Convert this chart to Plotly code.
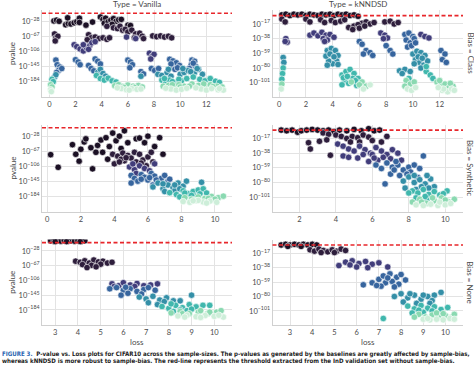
import plotly.graph_objects as go

# ---------------- data (loss, log10 p-value, sample-size group 0..7) ----------------
vanilla_class = [
    (0.35,-26,0),(0.55,-24,0),(0.75,-27,0),(1.25,-36,0),(1.45,-33,0),(1.4,-18,0),(1.65,-34,0),(1.9,-31,0),
    (2.1,-28,0),(2.3,-19,0),(2.3,-30,0),(2.8,-37,0),(3.3,-29,0),(3.9,-16,0),(4.1,-22,0),(4.3,-19,0),
    (4.2,-32,0),(4.5,-28,0),(4.7,-24,0),(4.9,-20,0),(5.1,-27,0),(5.3,-23,0),(5.5,-22,0),(4.8,-35,0),
    (6.0,-37,0),(6.2,-38,0),
    (0.4,-60,1),(0.5,-70,1),(0.65,-66,1),(0.45,-78,1),(4.4,-40,1),(4.9,-44,1),(5.2,-46,1),(5.4,-40,1),
    (5.6,-50,1),(5.8,-48,1),(6.0,-55,1),(6.3,-50,1),(6.6,-60,1),(6.9,-58,1),(7.1,-66,1),(7.2,-72,1),
    (6.5,-70,1),(7.9,-65,1),(8.2,-67,1),(8.5,-65,1),(8.8,-68,1),(9.1,-66,1),(9.35,-70,1),(3.0,-62,1),
    (3.2,-70,1),(3.5,-68,1),(3.8,-72,1),(4.1,-70,1),(4.4,-74,1),(4.6,-70,1),(2.9,-75,1),
    (1.9,-88,2),(2.1,-93,2),(2.35,-99,2),(2.6,-104,2),(2.85,-96,2),(3.1,-90,2),(3.25,-83,2),(2.6,-88,2),
    (3.0,-100,2),(3.5,-80,2),(7.65,-110,2),(7.85,-118,2),(8.0,-113,2),(7.75,-125,2),(5.9,-68,2),(6.6,-72,2),
    (0.5,-128,3),(0.6,-140,3),(0.8,-146,3),(0.7,-155,3),(0.95,-150,3),(0.55,-160,3),(2.0,-127,3),(2.2,-133,3),
    (2.35,-140,3),(3.0,-142,3),(3.2,-150,3),(3.5,-125,3),(3.7,-131,3),(3.9,-138,3),(3.4,-156,3),(6.0,-128,3),
    (6.2,-133,3),(6.35,-140,3),(6.15,-148,3),(7.0,-158,3),(7.2,-164,3),(7.8,-150,3),(8.05,-155,3),(8.35,-150,3),
    (9.2,-126,3),(9.45,-130,3),(9.7,-135,3),(9.35,-145,3),(9.6,-152,3),(9.95,-142,3),(10.9,-128,3),(11.1,-131,3),
    (10.85,-140,3),(11.2,-145,3),(10.7,-150,3),(9.3,-138,3),(9.8,-148,3),(11.0,-136,3),
    (0.4,-172,4),(0.5,-166,4),(3.7,-160,4),(3.9,-152,4),(4.1,-163,4),(4.3,-170,4),(7.0,-170,4),(8.3,-165,4),
    (8.6,-168,4),(9.0,-160,4),(9.3,-170,4),(10.0,-165,4),(10.3,-160,4),(10.6,-155,4),(11.1,-160,4),(11.4,-152,4),
    (11.7,-165,4),(9.1,-152,4),(10.2,-150,4),(11.3,-150,4),(10.8,-158,4),
    (0.2,-178,5),(0.3,-184,5),(3.6,-168,5),(3.9,-176,5),(4.2,-180,5),(4.5,-175,5),(4.8,-182,5),(5.1,-185,5),
    (8.6,-180,5),(8.9,-186,5),(9.2,-180,5),(9.6,-188,5),(10.1,-182,5),(10.5,-176,5),(11.0,-172,5),(11.5,-178,5),
    (11.9,-182,5),(12.3,-176,5),(12.7,-183,5),(13.0,-186,5),(8.8,-176,5),(9.4,-184,5),(9.9,-178,5),
    (0.1,-192,6),(0.2,-198,6),(5.0,-195,6),(5.3,-192,6),(5.6,-197,6),(6.0,-193,6),(6.4,-196,6),(6.8,-194,6),
    (7.1,-198,6),(8.7,-196,6),(9.1,-194,6),(9.5,-198,6),(9.9,-192,6),(10.3,-196,6),(10.9,-190,6),(11.4,-194,6),
    (11.9,-196,6),(12.3,-192,6),(12.8,-196,6),(13.2,-198,6),(5.7,-199,6),(6.5,-199,6),(9.4,-192,6),
    (10.0,-198,6),(10.7,-196,6),(11.8,-190,6),(12.5,-197,6),
    (0.1,-205,7),(0.15,-210,7),(5.5,-202,7),(5.9,-205,7),(6.3,-202,7),(6.7,-204,7),(9.3,-203,7),(9.7,-206,7),
    (10.1,-204,7),(10.5,-201,7),(11.6,-203,7),(12.0,-206,7),(12.4,-202,7),(12.9,-205,7),(13.3,-206,7),
    (5.2,-200,7),(6.1,-206,7),(7.0,-203,7),(8.9,-201,7),(11.2,-200,7),(13.0,-202,7),
]

knndsd_class = [
    (0.2,-4,0),(0.5,-3,0),(0.8,-5,0),(1.1,-3,0),(1.4,-4,0),(1.7,-3,0),(2.0,-5,0),(2.3,-3,0),(2.6,-4,0),
    (2.9,-5,0),(3.2,-3,0),(3.5,-4,0),(3.8,-3,0),(4.1,-5,0),(4.4,-3,0),(4.7,-4,0),(5.0,-3,0),(5.3,-5,0),
    (5.6,-4,0),(5.9,-6,0),
    (0.2,-10,1),(0.45,-14,1),(2.0,-10,1),(2.3,-14,1),(3.1,-11,1),(3.4,-15,1),(3.9,-12,1),(4.2,-15,1),
    (4.6,-13,1),(4.9,-11,1),(6.2,-16,1),(6.5,-14,1),(6.8,-17,1),(7.1,-15,1),(7.9,-14,1),(8.3,-13,1),
    (8.6,-17,1),(8.9,-15,1),(5.2,-22,1),(5.6,-20,1),(5.9,-18,1),(6.0,-23,1),(6.4,-20,1),(5.5,-25,1),
    (2.3,-33,2),(2.6,-30,2),(2.9,-34,2),(3.2,-29,2),(3.5,-33,2),(3.8,-32,2),(4.1,-36,2),(3.3,-38,2),
    (3.6,-40,2),(3.4,-42,2),(0.5,-38,2),(0.6,-43,2),(0.45,-42,2),(7.6,-30,2),(7.9,-33,2),(8.1,-37,2),
    (7.8,-38,2),(10.6,-32,2),(10.9,-35,2),(11.2,-37,2),
    (6.0,-42,3),(6.2,-46,3),(6.5,-55,3),(6.8,-58,3),(7.0,-62,3),(6.3,-60,3),(9.4,-32,3),(9.7,-30,3),
    (10.0,-35,3),(9.5,-40,3),(9.8,-44,3),(10.1,-38,3),(9.6,-50,3),(8.0,-48,3),(8.3,-55,3),(8.5,-60,3),
    (12.1,-55,3),(12.4,-60,3),(12.2,-68,3),(12.5,-72,3),(9.9,-48,3),(10.2,-44,3),
    (3.6,-55,4),(3.9,-52,4),(4.2,-55,4),(4.4,-62,4),(4.3,-70,4),(4.0,-74,4),(3.7,-70,4),(3.5,-63,4),
    (10.0,-60,4),(10.3,-56,4),(10.6,-58,4),(10.9,-62,4),(10.2,-68,4),(10.5,-72,4),(10.8,-76,4),(11.1,-70,4),
    (0.3,-65,4),(0.35,-72,4),(9.0,-84,4),(9.4,-82,4),(9.8,-85,4),(9.2,-88,4),(3.8,-60,4),(4.1,-64,4),
    (3.6,-76,4),(4.4,-75,4),(10.4,-64,4),(10.7,-66,4),(10.1,-74,4),(10.6,-80,4),
    (0.3,-80,5),(0.25,-88,5),(0.2,-96,5),(4.7,-90,5),(5.0,-85,5),(5.3,-82,5),(5.6,-88,5),(5.9,-95,5),
    (4.9,-98,5),(5.2,-102,5),(5.5,-95,5),(5.8,-105,5),(11.0,-85,5),(11.3,-90,5),(11.5,-95,5),(11.0,-78,5),
    (4.8,-94,5),(5.1,-92,5),(5.7,-98,5),(4.7,-104,5),(9.7,-95,5),
    (0.2,-103,6),(6.2,-100,6),(6.5,-106,6),(9.5,-98,6),(9.8,-103,6),(10.1,-100,6),(11.8,-100,6),
    (12.1,-105,6),(12.4,-103,6),(12.7,-108,6),(13.0,-106,6),(5.4,-100,6),(6.0,-104,6),(9.4,-106,6),
    (12.0,-98,6),(12.8,-102,6),
    (0.15,-110,7),(6.8,-104,7),(6.3,-110,7),(9.6,-110,7),(9.9,-112,7),(12.2,-112,7),(12.6,-114,7),(12.9,-110,7),
    (10.2,-108,7),(12.3,-110,7),(13.1,-112,7),(11.9,-108,7),
]

vanilla_synthetic = [
    (0.2,-76,0),(0.65,-109,0),(1.5,-50,0),(1.7,-75,0),(2.0,-62,0),(2.2,-43,0),(2.3,-35,0),(2.6,-58,0),
    (3.0,-52,0),(3.2,-38,0),(3.5,-32,0),(3.7,-55,0),(3.9,-20,0),(4.1,-40,0),(4.3,-28,0),(4.6,-14,0),
    (4.8,-45,0),(2.7,-113,0),(1.9,-93,0),(3.3,-70,0),(2.9,-70,0),(3.6,-88,0),(4.4,-60,0),(5.3,-35,0),
    (5.5,-33,0),(6.0,-28,0),(6.7,-32,0),(5.8,-45,0),(6.4,-55,0),(6.9,-75,0),
    (3.9,-75,1),(4.2,-80,1),(4.5,-72,1),(4.8,-78,1),(5.0,-85,1),(5.2,-70,1),(5.5,-75,1),(5.7,-90,1),
    (6.0,-82,1),(6.3,-95,1),(4.0,-100,1),(4.6,-92,1),(5.3,-95,1),(5.9,-105,1),(6.2,-70,1),(4.4,-88,1),
    (4.3,-95,1),(4.7,-84,1),(5.6,-98,1),
    (4.9,-108,2),(5.2,-115,2),(5.5,-105,2),(5.8,-112,2),(6.1,-118,2),(5.3,-125,2),(6.4,-100,2),(5.1,-100,2),
    (5.0,-130,3),(5.2,-138,3),(5.4,-145,3),(5.6,-128,3),(5.8,-135,3),(6.0,-142,3),(6.2,-125,3),(6.4,-132,3),
    (6.6,-148,3),(6.8,-138,3),(7.0,-130,3),(7.2,-145,3),(5.0,-150,3),(6.3,-155,3),(5.6,-140,3),(6.1,-136,3),
    (6.5,-142,3),(7.3,-140,3),
    (6.3,-160,4),(6.6,-150,4),(6.9,-165,4),(7.2,-155,4),(7.5,-162,4),(7.8,-150,4),(8.1,-158,4),(7.0,-172,4),
    (7.6,-170,4),(8.3,-145,4),(9.2,-148,4),(6.9,-152,4),(7.6,-155,4),(7.9,-165,4),
    (7.3,-175,5),(7.7,-180,5),(8.1,-170,5),(8.4,-178,5),(8.7,-172,5),(9.0,-168,5),(9.3,-165,5),(8.8,-184,5),
    (9.5,-176,5),(7.9,-186,5),(8.2,-176,5),(8.6,-182,5),(9.1,-178,5),
    (8.2,-188,6),(8.6,-192,6),(9.0,-186,6),(9.4,-190,6),(9.8,-185,6),(10.2,-188,6),(10.5,-184,6),
    (9.6,-190,6),(10.0,-192,6),
    (8.1,-198,7),(8.5,-200,7),(8.9,-196,7),(9.3,-199,7),(9.7,-197,7),(10.1,-200,7),(9.0,-195,7),
    (9.5,-202,7),(8.7,-196,7),
]

knndsd_synthetic = [
    (1.0,-5,0),(1.3,-6,0),(1.6,-5,0),(1.9,-8,0),(2.1,-6,0),(2.4,-5,0),(2.7,-4,0),(3.0,-5,0),(3.3,-6,0),
    (3.6,-5,0),(3.9,-7,0),(4.2,-5,0),(4.6,-6,0),(5.0,-4,0),(5.4,-6,0),(5.8,-3,0),(6.1,-6,0),(6.4,-5,0),
    (3.3,-9,1),(3.6,-11,1),(4.0,-12,1),(4.3,-14,1),(4.6,-17,1),(4.9,-14,1),(5.2,-16,1),(5.5,-12,1),
    (5.8,-15,1),(6.0,-20,1),(4.8,-22,1),(5.3,-22,1),(2.5,-23,1),(2.6,-32,1),(3.1,-21,1),(3.5,-19,1),
    (6.5,-22,1),(6.8,-14,1),(3.7,-41,1),
    (4.1,-25,2),(4.4,-28,2),(4.7,-32,2),(5.0,-35,2),(5.3,-28,2),(5.6,-33,2),(5.9,-38,2),(6.2,-30,2),
    (6.5,-35,2),(6.8,-40,2),(7.1,-33,2),(7.4,-38,2),(5.2,-45,2),(5.8,-50,2),(6.3,-48,2),(4.4,-42,2),
    (4.7,-44,2),(6.0,-40,2),(7.6,-48,2),(5.5,-40,2),(6.1,-45,2),(6.6,-44,2),(7.0,-46,2),
    (6.2,-55,3),(6.5,-60,3),(6.8,-52,3),(7.1,-58,3),(7.4,-55,3),(7.7,-62,3),(8.0,-58,3),(8.3,-55,3),
    (8.6,-60,3),(7.0,-68,3),(7.5,-70,3),(8.1,-65,3),(8.8,-42,3),(6.7,-82,3),(8.5,-73,3),(7.3,-50,3),
    (7.2,-62,3),(7.9,-68,3),
    (7.7,-78,4),(8.0,-72,4),(8.3,-80,4),(8.6,-76,4),(8.9,-82,4),(9.2,-75,4),(9.0,-70,4),(7.8,-88,4),
    (8.4,-90,4),(9.4,-86,4),(8.3,-70,4),(8.7,-86,4),(9.1,-88,4),
    (8.2,-92,5),(8.5,-95,5),(8.8,-90,5),(9.1,-97,5),(9.4,-93,5),(9.7,-98,5),(10.1,-92,5),(8.4,-102,5),
    (9.0,-105,5),(8.0,-95,5),(8.9,-100,5),(9.9,-96,5),
    (8.2,-108,6),(8.6,-104,6),(9.0,-110,6),(9.4,-106,6),(9.8,-102,6),(10.2,-108,6),(10.5,-104,6),
    (9.3,-102,6),(10.0,-105,6),(8.7,-108,6),
    (8.4,-112,7),(8.8,-113,7),(9.2,-111,7),(9.6,-113,7),(10.0,-112,7),(10.3,-110,7),(9.7,-108,7),
]

vanilla_none = [
    (2.8,-1,0),(2.95,-2,0),(3.1,-1,0),(3.25,-2,0),(3.4,-1,0),(3.55,-2,0),(3.7,-1,0),(3.85,-2,0),
    (4.0,-1,0),(4.15,-2,0),(4.3,-1,0),(3.0,-3,0),(3.5,-3,0),(4.1,-3,0),
    (3.9,-55,1),(4.1,-58,1),(4.3,-54,1),(4.5,-60,1),(4.7,-52,1),(4.9,-57,1),(5.1,-55,1),(5.3,-60,1),
    (5.5,-58,1),(4.2,-64,1),(4.6,-66,1),(5.0,-63,1),(4.8,-70,1),(4.4,-72,1),
    (5.5,-115,2),(5.8,-120,2),(6.0,-112,2),(6.3,-118,2),(6.6,-114,2),(6.9,-120,2),(7.2,-118,2),(7.5,-115,2),
    (5.6,-122,2),(6.5,-122,2),
    (5.4,-128,3),(5.7,-125,3),(6.0,-132,3),(6.3,-128,3),(6.6,-135,3),(6.9,-130,3),(6.2,-140,3),(5.9,-145,3),
    (7.1,-125,3),(6.1,-124,3),(6.8,-142,3),(7.4,-132,3),
    (6.7,-150,4),(7.0,-155,4),(7.3,-148,4),(7.6,-158,4),(7.9,-152,4),(8.2,-160,4),(7.1,-165,4),(7.5,-170,4),
    (8.5,-160,4),(9.0,-145,4),(7.8,-162,4),
    (7.7,-175,5),(8.0,-180,5),(8.3,-172,5),(8.6,-178,5),(8.9,-170,5),(9.2,-176,5),(9.5,-172,5),(8.2,-188,5),
    (8.8,-186,5),(9.8,-172,5),(8.1,-168,5),(8.5,-184,5),(9.0,-182,5),
    (8.1,-192,6),(8.5,-188,6),(8.9,-194,6),(9.3,-190,6),(9.7,-194,6),(10.1,-190,6),(10.3,-186,6),
    (9.4,-186,6),(9.8,-190,6),(8.6,-194,6),
    (8.4,-200,7),(8.8,-198,7),(9.2,-202,7),(9.6,-199,7),(10.0,-201,7),(10.4,-203,7),(8.7,-203,7),
    (9.4,-204,7),(10.2,-198,7),
]

knndsd_none = [
    (2.6,-5,0),(2.8,-4,0),(3.0,-5,0),(3.2,-4,0),(3.4,-5,0),(3.6,-4,0),(3.8,-5,0),(4.0,-4,0),(4.2,-5,0),
    (2.9,-7,0),(3.5,-7,0),
    (3.9,-12,1),(4.1,-14,1),(4.3,-11,1),(4.5,-13,1),(4.7,-15,1),(4.9,-12,1),(5.1,-14,1),(5.3,-11,1),
    (5.5,-13,1),(4.4,-16,1),(5.0,-16,1),
    (5.2,-35,2),(5.5,-30,2),(5.8,-28,2),(6.1,-32,2),(6.4,-29,2),(6.7,-33,2),(7.0,-31,2),(6.0,-37,2),
    (6.5,-38,2),(7.4,-37,2),(5.7,-34,2),
    (6.3,-63,3),(6.7,-60,3),(7.0,-55,3),(7.2,-50,3),(7.5,-47,3),(7.8,-52,3),(8.0,-48,3),(7.3,-60,3),
    (7.6,-58,3),(7.9,-62,3),(8.2,-56,3),(7.1,-65,3),(6.9,-64,3),(7.4,-53,3),(7.7,-66,3),
    (7.7,-80,4),(8.0,-76,4),(8.3,-82,4),(8.6,-78,4),(8.9,-84,4),(9.2,-80,4),(9.5,-78,4),(9.8,-74,4),
    (8.1,-88,4),(8.7,-90,4),(9.4,-86,4),(8.4,-76,4),(9.0,-78,4),(9.3,-90,4),
    (8.3,-94,5),(8.6,-98,5),(8.9,-93,5),(9.2,-97,5),(9.5,-95,5),(9.8,-99,5),(10.1,-96,5),(8.5,-104,5),
    (7.2,-112,5),(9.0,-103,5),(8.8,-100,5),(9.4,-101,5),
    (8.8,-106,6),(9.1,-110,6),(9.4,-107,6),(9.7,-111,6),(10.0,-108,6),(10.3,-110,6),(9.6,-104,6),
    (9.9,-105,6),(10.4,-106,6),(8.6,-110,6),
    (9.0,-113,7),(9.3,-114,7),(9.6,-113,7),(9.9,-114,7),(10.2,-112,7),(9.2,-112,7),(10.4,-113,7),
]

threshold_log10 = {"Vanilla": -6, "kNNDSD": -5}

types = ["Vanilla", "kNNDSD"]
biases = ["Class", "Synthetic", "None"]
panels = {
    ("Class", "Vanilla"): vanilla_class, ("Class", "kNNDSD"): knndsd_class,
    ("Synthetic", "Vanilla"): vanilla_synthetic, ("Synthetic", "kNNDSD"): knndsd_synthetic,
    ("None", "Vanilla"): vanilla_none, ("None", "kNNDSD"): knndsd_none,
}
ytick_exp = {"Vanilla": [-28, -67, -106, -145, -184], "kNNDSD": [-17, -38, -59, -80, -101]}
xtick_vals = {
    ("Class", "Vanilla"): [0, 2, 4, 6, 8, 10, 12], ("Class", "kNNDSD"): [0, 2, 4, 6, 8, 10, 12],
    ("Synthetic", "Vanilla"): [0, 2, 4, 6, 8, 10], ("Synthetic", "kNNDSD"): [2, 4, 6, 8, 10],
    ("None", "Vanilla"): [3, 4, 5, 6, 7, 8, 9, 10], ("None", "kNNDSD"): [3, 4, 5, 6, 7, 8, 9, 10],
}

# ---------------- style / layout ----------------
PALETTE = ["#1b1024", "#2e1e3c", "#413d7b", "#37659e", "#348fa7", "#40b7ad", "#8ad9b1", "#cdeed9"]
W, H = 474, 372
col_px = {"Vanilla": (42, 232), "kNNDSD": (272.5, 463)}
title_px = {"Vanilla": 137, "kNNDSD": 358}
row_px = {"Class": (10, 97), "Synthetic": (124.5, 211.5), "None": (239.5, 325)}
y_range = {"Vanilla": [-224, 2.4], "kNNDSD": [-121.5, 3]}
x_pad = 0.05
FONT = "Lato, Open Sans, DejaVu Sans, sans-serif"
GRID = "#e3e3e3"
TXT = "#4a4a4a"

fig = go.Figure()
layout = dict(width=W, height=H, margin=dict(l=0, r=0, t=0, b=0, autoexpand=False),
              paper_bgcolor="white", plot_bgcolor="white", showlegend=False,
              font=dict(family=FONT, size=7.5, color=TXT))
annotations = []
shapes = []


def label(text, px, py, angle=0, size=8):
    return dict(text=text, x=px / W, y=1 - py / H, xref="paper", yref="paper",
                xanchor="center", yanchor="middle", textangle=angle, showarrow=False,
                font=dict(size=size, color=TXT))


k = 0
for bias in biases:
    for typ in types:
        k += 1
        sfx = "" if k == 1 else str(k)
        pts = panels[(bias, typ)]
        loss = [p[0] for p in pts]
        pval = [10.0 ** p[1] for p in pts]
        col = [PALETTE[p[2]] for p in pts]
        fig.add_trace(go.Scatter(
            x=loss, y=pval, mode="markers", xaxis="x" + sfx, yaxis="y" + sfx,
            marker=dict(size=6.5, color=col, line=dict(color="white", width=0.6)),
            hoverinfo="skip"))
        lo, hi = min(loss), max(loss)
        span = hi - lo
        x0p, x1p = col_px[typ]
        t, b = row_px[bias]
        layout["xaxis" + sfx] = dict(
            domain=[x0p / W, x1p / W], anchor="y" + sfx, automargin=False,
            range=[lo - x_pad * span, hi + x_pad * span],
            tickvals=xtick_vals[(bias, typ)], showgrid=True, gridcolor=GRID, gridwidth=1,
            zeroline=False, showline=True, linecolor="#d0d0d0", linewidth=1, ticks="",
            tickfont=dict(size=7.5, color=TXT), mirror=False)
        layout["yaxis" + sfx] = dict(
            domain=[1 - b / H, 1 - t / H], anchor="x" + sfx, type="log", automargin=False,
            range=y_range[typ],
            tickvals=[10.0 ** e for e in ytick_exp[typ]],
            ticktext=["10<sup>\u2212%d</sup>" % (-e) for e in ytick_exp[typ]],
            showgrid=True, gridcolor=GRID, gridwidth=1, zeroline=False,
            showline=True, linecolor="#d0d0d0", linewidth=1, ticks="",
            tickfont=dict(size=7.5, color=TXT))
        shapes.append(dict(type="line", xref="x%s domain" % sfx, yref="y" + sfx,
                           x0=0, x1=1, y0=10.0 ** threshold_log10[typ], y1=10.0 ** threshold_log10[typ],
                           line=dict(color="#e8262b", width=1.6, dash="4px,2.5px")))
        cyp = (t + b) / 2
        if typ == "Vanilla":
            annotations.append(label("pvalue", 12.5, cyp, -90))
        else:
            annotations.append(label("Bias = %s" % bias, 470, cyp, 90))
        if bias == "Class":
            annotations.append(label("Type = %s" % typ, title_px[typ], 4.5))
        if bias == "None":
            annotations.append(label("loss", (x0p + x1p) / 2, 341.5))

CAP = "DejaVu Sans Condensed, Liberation Sans Narrow, sans-serif"
cap1 = ("<b><span style='color:#2a64b0'>FIGURE 3.</span>  P-value vs. Loss plots for CIFAR10 across the "
        "sample-sizes. The p-values as generated by the baselines are greatly affected by sample-bias,</b>")
cap2 = ("<b>whereas kNNDSD is more robust to sample-bias. The red-line represents the threshold extracted "
        "from the InD validation set without sample-bias.</b>")
for txt, yy in [(cap1, 353.7), (cap2, 360.5)]:
    annotations.append(dict(text=txt, x=0, y=1 - yy / H, xref="paper", yref="paper",
                            xanchor="left", yanchor="middle", showarrow=False,
                            font=dict(family=CAP, size=6.1, color="#1a1a1a")))

layout["annotations"] = annotations
layout["shapes"] = shapes
fig.update_layout(**layout)
fig.write_html("out.html", config={"displayModeBar": False, "staticPlot": True},
               post_script="document.body.style.margin='0';document.body.style.padding='0';")
